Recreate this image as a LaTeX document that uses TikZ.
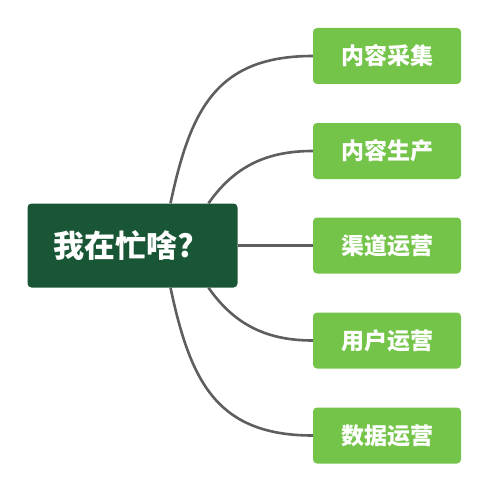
\documentclass[tikz,border=0pt]{standalone}
\usepackage{fontspec}
\setmainfont{Noto Sans CJK SC}
\usetikzlibrary{positioning}
\definecolor{rootgreen}{HTML}{185636}
\definecolor{leafgreen}{HTML}{74C44A}
\definecolor{branchgray}{HTML}{5E5E5E}
\begin{document}
\begin{tikzpicture}[x=1pt,y=-1pt,
  rootbox/.style={fill=rootgreen,rounded corners=4pt,minimum width=210pt,minimum height=84pt,inner sep=0pt,text=white,font=\fontsize{31}{36}\selectfont\bfseries},
  leaf/.style={fill=leafgreen,rounded corners=4pt,minimum width=148pt,minimum height=56pt,inner sep=0pt,text=white,font=\fontsize{23}{27}\selectfont\bfseries},
  branch/.style={draw=branchgray,line width=2.6pt}]
\useasboundingbox (0,0) rectangle (487,492);
\node[rootbox] (root) at (132.5,245.5) {我在忙啥?\hspace*{18pt}};
\foreach \i/\y/\t in {1/56/内容采集,2/151/内容生产,3/245.5/渠道运营,4/340.5/用户运营,5/435.5/数据运营}
  \node[leaf] (c\i) at (387,\y) {\t};
% branches
\draw[branch] ([xshift=38pt]root.north) to[out=78,in=180,looseness=1.2] (c1.west);
\draw[branch] ([xshift=76pt]root.north) to[out=55,in=180] (c2.west);
\draw[branch] (root.east) -- (c3.west);
\draw[branch] ([xshift=76pt]root.south) to[out=-55,in=180] (c4.west);
\draw[branch] ([xshift=38pt]root.south) to[out=-78,in=180,looseness=1.2] (c5.west);
\end{tikzpicture}
\end{document}
